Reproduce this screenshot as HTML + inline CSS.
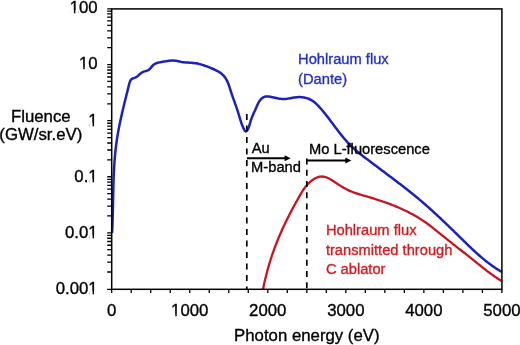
<!DOCTYPE html>
<html><head><meta charset="utf-8"><style>
html,body{margin:0;padding:0;background:#fff;}
body{width:520px;height:345px;overflow:hidden;}
svg{display:block;font-family:"Liberation Sans",Arial,Helvetica,sans-serif;}
</style></head><body>
<svg width="520" height="345" viewBox="0 0 520 345">
<rect width="520" height="345" fill="#fff"/>
<g fill="#000" stroke="#000" stroke-width="0.35" paint-order="stroke" font-size="16.8">
<text x="97.7" y="12.60" text-anchor="end">100</text><text x="97.7" y="69.30" text-anchor="end">10</text><text x="97.7" y="125.70" text-anchor="end">1</text><text x="97.7" y="181.70" text-anchor="end">0.1</text><text x="97.7" y="237.90" text-anchor="end">0.01</text><text x="97.7" y="293.90" text-anchor="end">0.001</text>
<text x="111.70" y="316.2" text-anchor="middle">0</text><text x="189.74" y="316.2" text-anchor="middle">1000</text><text x="267.78" y="316.2" text-anchor="middle">2000</text><text x="345.82" y="316.2" text-anchor="middle">3000</text><text x="423.86" y="316.2" text-anchor="middle">4000</text><text x="501.90" y="316.2" text-anchor="middle">5000</text>
<text x="40.8" y="121.7" text-anchor="middle">Fluence</text>
<text x="40.8" y="140.0" text-anchor="middle">(GW/sr.eV)</text>
<text x="306.8" y="340.8" text-anchor="middle">Photon energy (eV)</text>
</g>
<g fill="#fff"><rect x="70.67" y="10.34" width="3.20" height="3.86"/><rect x="75.40" y="10.34" width="3.14" height="3.86"/><rect x="80.01" y="67.04" width="3.20" height="3.86"/><rect x="84.74" y="67.04" width="3.14" height="3.86"/><rect x="89.36" y="123.44" width="3.20" height="3.86"/><rect x="94.09" y="123.44" width="3.14" height="3.86"/><rect x="89.36" y="179.44" width="3.20" height="3.86"/><rect x="94.09" y="179.44" width="3.14" height="3.86"/><rect x="89.36" y="235.64" width="3.20" height="3.86"/><rect x="94.09" y="235.64" width="3.14" height="3.86"/><rect x="89.36" y="291.64" width="3.20" height="3.86"/><rect x="94.09" y="291.64" width="3.14" height="3.86"/><rect x="172.05" y="313.94" width="3.20" height="3.86"/><rect x="176.78" y="313.94" width="3.14" height="3.86"/></g>
<g fill="none" stroke="#000" stroke-width="1.3">
<path d="M107.20,272.02H111.70M107.20,262.14H111.70M107.20,255.14H111.70M107.20,249.70H111.70M107.20,245.26H111.70M107.20,241.51H111.70M107.20,238.25H111.70M107.20,235.39H111.70M107.20,232.82H111.70M107.20,215.94H111.70M107.20,206.06H111.70M107.20,199.06H111.70M107.20,193.62H111.70M107.20,189.18H111.70M107.20,185.43H111.70M107.20,182.17H111.70M107.20,179.31H111.70M107.20,176.74H111.70M107.20,159.86H111.70M107.20,149.98H111.70M107.20,142.98H111.70M107.20,137.54H111.70M107.20,133.10H111.70M107.20,129.35H111.70M107.20,126.09H111.70M107.20,123.23H111.70M107.20,120.66H111.70M107.20,103.78H111.70M107.20,93.90H111.70M107.20,86.90H111.70M107.20,81.46H111.70M107.20,77.02H111.70M107.20,73.27H111.70M107.20,70.01H111.70M107.20,67.15H111.70M107.20,64.58H111.70M107.20,47.70H111.70M107.20,37.82H111.70M107.20,30.82H111.70M107.20,25.38H111.70M107.20,20.94H111.70M107.20,17.19H111.70M107.20,13.93H111.70M107.20,11.07H111.70M107.20,8.90H111.70M107.20,289.30H111.70"/>
<path d="M111.70,289.30V292.90M131.21,289.30V292.90M150.72,289.30V292.90M170.23,289.30V292.90M189.74,289.30V292.90M209.25,289.30V292.90M228.76,289.30V292.90M248.27,289.30V292.90M267.78,289.30V292.90M287.29,289.30V292.90M306.80,289.30V292.90M326.31,289.30V292.90M345.82,289.30V292.90M365.33,289.30V292.90M384.84,289.30V292.90M404.35,289.30V292.90M423.86,289.30V292.90M443.37,289.30V292.90M462.88,289.30V292.90M482.39,289.30V292.90M501.90,289.30V292.90"/>
</g>
<path d="M262.99,289.32 L263.23,288.15 L263.47,286.97 L263.72,285.80 L263.97,284.63 L264.23,283.46 L264.49,282.30 L264.76,281.13 L265.03,279.96 L265.31,278.80 L265.59,277.63 L265.88,276.47 L266.17,275.31 L266.46,274.15 L266.77,272.99 L267.07,271.83 L267.38,270.68 L267.70,269.52 L268.02,268.37 L268.35,267.21 L268.68,266.06 L269.01,264.91 L269.35,263.76 L269.70,262.62 L270.05,261.47 L270.41,260.33 L270.77,259.19 L271.14,258.04 L271.51,256.91 L271.88,255.77 L272.26,254.63 L272.65,253.50 L273.04,252.37 L273.44,251.24 L273.84,250.11 L274.25,248.99 L274.66,247.86 L275.08,246.74 L275.50,245.62 L275.93,244.50 L276.36,243.39 L276.80,242.27 L277.24,241.16 L277.69,240.05 L278.14,238.95 L278.60,237.84 L279.07,236.74 L279.53,235.64 L280.01,234.54 L280.48,233.44 L280.97,232.35 L281.45,231.26 L281.94,230.16 L282.44,229.08 L282.94,227.99 L283.44,226.90 L283.95,225.82 L284.46,224.74 L284.98,223.66 L285.50,222.58 L286.02,221.51 L286.55,220.43 L287.08,219.36 L287.61,218.29 L288.15,217.22 L288.69,216.15 L289.23,215.09 L289.78,214.02 L290.33,212.96 L290.88,211.90 L291.44,210.84 L292.00,209.78 L292.56,208.72 L293.12,207.66 L293.69,206.61 L294.26,205.55 L294.83,204.50 L295.41,203.45 L295.98,202.40 L296.56,201.35 L297.14,200.31 L297.72,199.26 L298.31,198.22 L298.90,197.17 L299.49,196.13 L300.08,195.09 L300.68,194.06 L301.29,193.03 L301.92,192.01 L302.56,191.00 L303.22,190.00 L303.89,189.01 L304.59,188.04 L305.31,187.08 L306.06,186.14 L306.84,185.22 L307.66,184.32 L308.50,183.44 L309.38,182.59 L310.30,181.76 L311.26,180.96 L312.24,180.21 L313.25,179.51 L314.29,178.86 L315.34,178.28 L316.41,177.76 L317.50,177.33 L318.59,176.98 L319.69,176.72 L320.80,176.56 L321.90,176.51 L323.00,176.57 L324.10,176.74 L325.20,177.01 L326.28,177.36 L327.37,177.78 L328.45,178.28 L329.52,178.83 L330.59,179.44 L331.65,180.07 L332.71,180.74 L333.76,181.43 L334.80,182.13 L335.84,182.82 L336.87,183.51 L337.90,184.19 L338.92,184.85 L339.94,185.50 L340.95,186.13 L341.97,186.75 L342.99,187.36 L344.01,187.95 L345.04,188.52 L346.08,189.07 L347.12,189.60 L348.18,190.12 L349.24,190.62 L350.32,191.09 L351.41,191.55 L352.51,191.98 L353.62,192.40 L354.75,192.80 L355.88,193.19 L357.02,193.57 L358.16,193.94 L359.32,194.29 L360.47,194.64 L361.63,194.99 L362.79,195.33 L363.95,195.67 L365.11,196.00 L366.27,196.34 L367.42,196.68 L368.57,197.02 L369.73,197.36 L370.87,197.71 L372.02,198.06 L373.17,198.41 L374.31,198.77 L375.45,199.12 L376.59,199.49 L377.73,199.85 L378.86,200.22 L380.00,200.60 L381.13,200.97 L382.26,201.36 L383.39,201.75 L384.52,202.14 L385.64,202.54 L386.77,202.94 L387.89,203.35 L389.01,203.77 L390.13,204.19 L391.25,204.61 L392.37,205.05 L393.48,205.49 L394.59,205.93 L395.70,206.39 L396.81,206.84 L397.91,207.31 L399.01,207.78 L400.11,208.26 L401.20,208.75 L402.29,209.24 L403.38,209.74 L404.46,210.25 L405.54,210.77 L406.62,211.29 L407.69,211.82 L408.76,212.36 L409.82,212.91 L410.88,213.46 L411.94,214.02 L412.99,214.60 L414.03,215.18 L415.07,215.77 L416.11,216.36 L417.14,216.97 L418.16,217.59 L419.18,218.21 L420.19,218.85 L421.20,219.49 L422.20,220.14 L423.20,220.80 L424.19,221.48 L425.17,222.16 L426.14,222.85 L427.12,223.55 L428.08,224.26 L429.04,224.98 L430.00,225.70 L430.95,226.43 L431.90,227.17 L432.84,227.91 L433.78,228.65 L434.72,229.40 L435.65,230.15 L436.59,230.91 L437.52,231.67 L438.45,232.43 L439.38,233.18 L440.31,233.94 L441.24,234.70 L442.17,235.46 L443.10,236.22 L444.04,236.97 L444.97,237.72 L445.91,238.47 L446.84,239.22 L447.78,239.96 L448.72,240.71 L449.66,241.45 L450.60,242.19 L451.54,242.92 L452.48,243.66 L453.42,244.39 L454.36,245.13 L455.31,245.86 L456.25,246.60 L457.19,247.33 L458.13,248.06 L459.08,248.80 L460.02,249.53 L460.96,250.27 L461.90,251.00 L462.84,251.74 L463.78,252.48 L464.72,253.22 L465.66,253.96 L466.59,254.70 L467.53,255.45 L468.46,256.20 L469.40,256.95 L470.33,257.70 L471.26,258.45 L472.20,259.20 L473.13,259.95 L474.06,260.70 L474.99,261.45 L475.93,262.21 L476.86,262.96 L477.80,263.71 L478.73,264.45 L479.67,265.20 L480.61,265.95 L481.55,266.69 L482.49,267.43 L483.44,268.17 L484.38,268.90 L485.33,269.63 L486.28,270.36 L487.24,271.09 L488.20,271.81 L489.16,272.52 L490.12,273.23 L491.09,273.94 L492.06,274.64 L493.03,275.33 L494.01,276.02 L494.99,276.71 L495.98,277.38 L496.97,278.05 L497.97,278.72 L498.97,279.37 L499.98,280.02 L500.99,280.66 L502.01,281.29" fill="none" stroke="#c8141e" stroke-width="2.3" stroke-linejoin="round" stroke-linecap="butt"/>
<path d="M112.03,232.95 L112.10,231.76 L112.16,230.57 L112.22,229.38 L112.28,228.20 L112.33,227.00 L112.38,225.81 L112.43,224.62 L112.48,223.43 L112.53,222.24 L112.57,221.04 L112.61,219.85 L112.65,218.65 L112.68,217.46 L112.72,216.26 L112.75,215.06 L112.78,213.86 L112.81,212.67 L112.84,211.47 L112.87,210.27 L112.90,209.07 L112.93,207.87 L112.95,206.67 L112.98,205.47 L113.00,204.27 L113.03,203.06 L113.05,201.86 L113.07,200.66 L113.10,199.46 L113.12,198.26 L113.15,197.05 L113.17,195.85 L113.19,194.65 L113.22,193.44 L113.25,192.24 L113.27,191.04 L113.30,189.83 L113.33,188.63 L113.36,187.43 L113.39,186.22 L113.42,185.02 L113.46,183.82 L113.49,182.61 L113.53,181.41 L113.57,180.21 L113.61,179.01 L113.66,177.80 L113.70,176.60 L113.75,175.40 L113.80,174.20 L113.86,173.00 L113.91,171.80 L113.97,170.60 L114.04,169.40 L114.10,168.20 L114.17,167.00 L114.24,165.80 L114.32,164.60 L114.40,163.40 L114.48,162.21 L114.56,161.01 L114.65,159.81 L114.75,158.62 L114.85,157.42 L114.95,156.23 L115.06,155.04 L115.17,153.84 L115.29,152.65 L115.41,151.46 L115.53,150.27 L115.66,149.08 L115.80,147.90 L115.94,146.71 L116.09,145.52 L116.24,144.34 L116.40,143.15 L116.56,141.97 L116.73,140.79 L116.91,139.60 L117.09,138.42 L117.27,137.24 L117.47,136.07 L117.66,134.89 L117.86,133.71 L118.07,132.53 L118.28,131.36 L118.49,130.18 L118.71,129.01 L118.94,127.83 L119.17,126.66 L119.40,125.49 L119.64,124.32 L119.88,123.14 L120.12,121.97 L120.37,120.80 L120.62,119.63 L120.87,118.46 L121.13,117.29 L121.39,116.12 L121.65,114.95 L121.92,113.78 L122.19,112.61 L122.46,111.44 L122.73,110.27 L123.01,109.10 L123.29,107.93 L123.57,106.76 L123.85,105.59 L124.13,104.42 L124.42,103.25 L124.70,102.08 L124.99,100.91 L125.28,99.73 L125.57,98.56 L125.86,97.39 L126.16,96.22 L126.45,95.04 L126.74,93.87 L127.04,92.70 L127.33,91.52 L127.63,90.35 L127.92,89.17 L128.22,87.99 L128.51,86.81 L128.80,85.64 L129.10,84.46 L129.40,83.28 L129.73,82.14 L130.15,81.07 L130.68,80.12 L131.37,79.32 L132.26,78.71 L133.33,78.27 L134.50,77.88 L135.64,77.45 L136.68,76.86 L137.61,76.13 L138.49,75.32 L139.35,74.48 L140.25,73.69 L141.21,72.99 L142.22,72.37 L143.29,71.85 L144.40,71.42 L145.56,71.08 L146.71,70.77 L147.82,70.38 L148.83,69.82 L149.73,69.05 L150.55,68.12 L151.33,67.13 L152.12,66.16 L152.96,65.29 L153.88,64.55 L154.86,63.94 L155.90,63.43 L156.99,63.01 L158.11,62.67 L159.27,62.39 L160.46,62.16 L161.66,61.95 L162.87,61.76 L164.08,61.57 L165.29,61.37 L166.50,61.18 L167.70,61.00 L168.90,60.84 L170.10,60.71 L171.29,60.62 L172.47,60.57 L173.65,60.58 L174.83,60.65 L176.00,60.79 L177.17,60.99 L178.33,61.25 L179.49,61.52 L180.66,61.79 L181.84,62.02 L183.03,62.20 L184.22,62.35 L185.42,62.46 L186.63,62.54 L187.83,62.61 L189.04,62.67 L190.24,62.73 L191.44,62.81 L192.63,62.90 L193.82,63.01 L195.00,63.16 L196.17,63.35 L197.33,63.57 L198.48,63.82 L199.63,64.10 L200.77,64.40 L201.90,64.74 L203.04,65.09 L204.17,65.47 L205.30,65.86 L206.43,66.27 L207.56,66.70 L208.69,67.14 L209.82,67.59 L210.96,68.05 L212.09,68.52 L213.23,69.01 L214.35,69.51 L215.46,70.03 L216.55,70.58 L217.62,71.15 L218.66,71.76 L219.67,72.39 L220.64,73.07 L221.58,73.78 L222.46,74.54 L223.30,75.34 L224.08,76.19 L224.81,77.10 L225.48,78.05 L226.10,79.04 L226.67,80.08 L227.20,81.14 L227.70,82.24 L228.17,83.36 L228.61,84.51 L229.02,85.66 L229.42,86.83 L229.80,88.01 L230.17,89.19 L230.54,90.37 L230.91,91.54 L231.28,92.70 L231.65,93.85 L232.04,94.99 L232.43,96.11 L232.82,97.23 L233.21,98.34 L233.61,99.44 L234.01,100.54 L234.41,101.64 L234.81,102.74 L235.21,103.84 L235.61,104.95 L236.00,106.06 L236.39,107.17 L236.77,108.30 L237.15,109.43 L237.53,110.58 L237.89,111.74 L238.25,112.91 L238.61,114.09 L238.96,115.28 L239.31,116.48 L239.66,117.67 L240.02,118.86 L240.39,120.04 L240.76,121.22 L241.14,122.38 L241.54,123.53 L241.95,124.66 L242.38,125.77 L242.83,126.86 L243.30,127.91 L243.79,128.94 L244.31,129.94 L244.85,130.86 L245.47,131.43 L246.17,131.31 L246.89,130.66 L247.54,129.78 L248.11,128.78 L248.60,127.67 L249.04,126.49 L249.45,125.25 L249.82,123.98 L250.18,122.70 L250.55,121.44 L250.93,120.22 L251.33,119.04 L251.75,117.90 L252.18,116.79 L252.63,115.71 L253.09,114.65 L253.56,113.60 L254.03,112.55 L254.51,111.50 L254.99,110.45 L255.47,109.39 L255.95,108.30 L256.42,107.20 L256.90,106.07 L257.39,104.94 L257.91,103.82 L258.47,102.72 L259.09,101.65 L259.78,100.64 L260.54,99.68 L261.39,98.81 L262.32,98.04 L263.31,97.39 L264.36,96.88 L265.45,96.54 L266.59,96.38 L267.75,96.39 L268.94,96.51 L270.13,96.72 L271.34,96.98 L272.54,97.25 L273.73,97.52 L274.93,97.79 L276.12,98.05 L277.31,98.29 L278.49,98.51 L279.68,98.69 L280.86,98.84 L282.04,98.93 L283.22,98.98 L284.40,98.97 L285.58,98.90 L286.76,98.78 L287.94,98.62 L289.13,98.43 L290.31,98.23 L291.50,98.01 L292.69,97.80 L293.89,97.60 L295.08,97.42 L296.29,97.28 L297.50,97.17 L298.71,97.12 L299.92,97.11 L301.13,97.15 L302.34,97.25 L303.53,97.40 L304.71,97.60 L305.87,97.86 L307.01,98.18 L308.12,98.56 L309.21,99.00 L310.26,99.50 L311.29,100.07 L312.28,100.69 L313.25,101.36 L314.19,102.07 L315.10,102.83 L315.99,103.62 L316.87,104.45 L317.72,105.30 L318.56,106.18 L319.39,107.07 L320.20,107.97 L321.00,108.88 L321.80,109.80 L322.58,110.73 L323.36,111.66 L324.13,112.59 L324.89,113.53 L325.65,114.48 L326.40,115.42 L327.14,116.37 L327.88,117.33 L328.61,118.28 L329.34,119.24 L330.07,120.20 L330.79,121.16 L331.52,122.13 L332.24,123.09 L332.96,124.05 L333.67,125.01 L334.39,125.98 L335.11,126.94 L335.83,127.89 L336.55,128.85 L337.27,129.80 L338.00,130.76 L338.73,131.70 L339.46,132.65 L340.20,133.59 L340.94,134.52 L341.68,135.45 L342.43,136.38 L343.19,137.30 L343.96,138.21 L344.73,139.11 L345.51,140.01 L346.30,140.90 L347.09,141.79 L347.90,142.66 L348.72,143.53 L349.54,144.39 L350.38,145.23 L351.23,146.07 L352.09,146.90 L352.97,147.72 L353.85,148.52 L354.75,149.32 L355.65,150.11 L356.57,150.89 L357.49,151.67 L358.42,152.44 L359.35,153.20 L360.29,153.95 L361.24,154.70 L362.19,155.44 L363.14,156.19 L364.10,156.92 L365.05,157.66 L366.01,158.39 L366.97,159.12 L367.93,159.84 L368.88,160.57 L369.84,161.29 L370.80,162.02 L371.75,162.74 L372.71,163.46 L373.66,164.18 L374.62,164.90 L375.57,165.62 L376.53,166.34 L377.48,167.06 L378.44,167.77 L379.39,168.49 L380.35,169.21 L381.30,169.92 L382.26,170.64 L383.21,171.36 L384.17,172.07 L385.12,172.79 L386.08,173.51 L387.03,174.23 L387.99,174.95 L388.95,175.66 L389.90,176.38 L390.86,177.10 L391.82,177.83 L392.77,178.55 L393.73,179.27 L394.68,180.00 L395.64,180.72 L396.59,181.45 L397.55,182.17 L398.50,182.90 L399.45,183.63 L400.41,184.36 L401.36,185.10 L402.31,185.83 L403.26,186.56 L404.21,187.30 L405.15,188.04 L406.10,188.78 L407.04,189.52 L407.99,190.26 L408.93,191.01 L409.87,191.76 L410.81,192.51 L411.74,193.26 L412.68,194.01 L413.61,194.76 L414.54,195.52 L415.47,196.28 L416.40,197.04 L417.32,197.81 L418.25,198.57 L419.17,199.34 L420.09,200.12 L421.00,200.89 L421.92,201.67 L422.83,202.45 L423.74,203.23 L424.64,204.01 L425.55,204.80 L426.45,205.59 L427.35,206.38 L428.24,207.18 L429.14,207.97 L430.03,208.77 L430.92,209.57 L431.81,210.38 L432.70,211.18 L433.58,211.99 L434.47,212.80 L435.35,213.61 L436.23,214.42 L437.11,215.24 L437.98,216.05 L438.86,216.87 L439.73,217.69 L440.60,218.51 L441.48,219.33 L442.35,220.16 L443.21,220.98 L444.08,221.81 L444.95,222.64 L445.81,223.47 L446.68,224.30 L447.54,225.13 L448.41,225.96 L449.27,226.80 L450.13,227.63 L450.99,228.46 L451.85,229.30 L452.71,230.14 L453.57,230.97 L454.43,231.81 L455.29,232.65 L456.15,233.49 L457.00,234.33 L457.86,235.17 L458.72,236.01 L459.58,236.85 L460.43,237.69 L461.29,238.53 L462.15,239.37 L463.01,240.21 L463.87,241.05 L464.73,241.89 L465.59,242.73 L466.45,243.56 L467.31,244.40 L468.18,245.23 L469.04,246.06 L469.91,246.89 L470.78,247.72 L471.65,248.54 L472.53,249.37 L473.40,250.18 L474.28,251.00 L475.17,251.81 L476.05,252.62 L476.94,253.42 L477.84,254.22 L478.74,255.01 L479.64,255.80 L480.54,256.58 L481.45,257.36 L482.37,258.13 L483.29,258.90 L484.21,259.66 L485.14,260.41 L486.08,261.16 L487.02,261.90 L487.96,262.63 L488.92,263.36 L489.87,264.08 L490.84,264.78 L491.81,265.49 L492.79,266.18 L493.77,266.86 L494.76,267.54 L495.76,268.20 L496.77,268.86 L497.79,269.51 L498.81,270.14 L499.84,270.77 L500.88,271.38 L501.92,271.99" fill="none" stroke="#1b22b8" stroke-width="2.5" stroke-linejoin="round" stroke-linecap="butt"/>
<g stroke="#000" stroke-width="1.7" fill="none">
<path d="M246.8,114.1V289.3" stroke-dasharray="6 5.5"/>
<path d="M306.8,158.5V289.3" stroke-dasharray="6 5.25"/>
</g>
<g stroke="#000" stroke-width="2" fill="none">
<path d="M247,158.3H286"/>
<path d="M306.8,160.6H346.5"/>
</g>
<g fill="#000">
<path d="M284.6,155.3L290.6,158.3L284.6,161.3Z"/>
<path d="M345.4,157.6L351.4,160.6L345.4,163.6Z"/>
</g>
<g font-size="14.7" fill="#000" stroke="#000" stroke-width="0.35" paint-order="stroke">
<text x="251.8" y="153.2">Au</text>
<text x="251.1" y="172.4">M-band</text>
<text x="309.0" y="153.7">Mo L-fluorescence</text>
</g>
<g font-size="14.7" fill="#2430c4" stroke="#2430c4" stroke-width="0.35" paint-order="stroke">
<text x="298.1" y="64.3">Hohlraum flux</text>
<text x="298.1" y="83.9">(Dante)</text>
</g>
<g font-size="14.7" fill="#d01c24" stroke="#d01c24" stroke-width="0.35" paint-order="stroke">
<text x="325.9" y="235.2">Hohlraum flux</text>
<text x="325.9" y="254.5">transmitted through</text>
<text x="325.9" y="273.8">C ablator</text>
</g>
<rect x="111.7" y="8.9" width="390.20" height="280.40" fill="none" stroke="#000" stroke-width="1.5"/>
</svg>
</body></html>
